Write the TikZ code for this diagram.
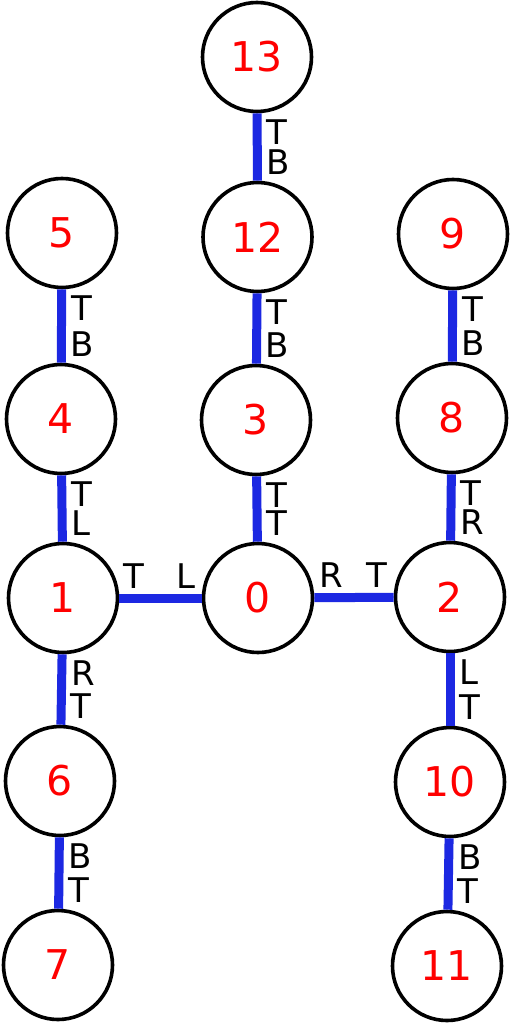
\documentclass[tikz,border=0pt]{standalone}
\usepackage{fontspec}
\setmainfont{DejaVu Sans}
\usepackage{tikz}
\usetikzlibrary{positioning}
\definecolor{linkblue}{RGB}{28,40,226}
\tikzstyle{vertex} = [circle, draw=black, line width=3.6pt, minimum size=109pt, inner sep=0pt, text=red, font=\fontsize{41}{48}\selectfont]
\tikzstyle{link} = [draw=linkblue, line width=9pt]
\tikzstyle{lab} = [inner sep=0.5pt, text=black, font=\fontsize{34}{40}\selectfont]
\newcommand{\Side}[1]{\textrm{#1}}

\begin{document}
\begin{tikzpicture}[x=1pt, y=-1pt]
	\useasboundingbox (0,0) rectangle (511,1024);
	% middle column
	\node[vertex] (n13) at (257,57) {13};
	\node[vertex] (n12) at (257.5,237) {12};
	\node[vertex] (n3) at (256,420) {3};
	\node[vertex] (n0) at (258,598) {0};
	% left column
	\node[vertex] (n5) at (62,233) {5};
	\node[vertex] (n4) at (61,419) {4};
	\node[vertex] (n1) at (63,598) {1};
	\node[vertex] (n6) at (60,781) {6};
	\node[vertex] (n7) at (58,965) {7};
	% right column
	\node[vertex] (n9) at (453,234) {9};
	\node[vertex] (n8) at (452,418) {8};
	\node[vertex] (n2) at (450,597) {2};
	\node[vertex] (n10) at (450,782) {10};
	\node[vertex] (n11) at (447,966) {11};
	% vertical links
	\foreach \a/\b/\s/\e in {13/12/T/B, 12/3/T/B, 3/0/T/T, 5/4/T/B, 4/1/T/L, 1/6/R/T, 6/7/B/T, 9/8/T/B, 8/2/T/R, 2/10/L/T, 10/11/B/T}
		\draw[link] (n\a) -- (n\b)
			node[lab, pos=0, anchor=north west, xshift=4.5pt, yshift=-1.5pt] {\Side{\s}}
			node[lab, pos=1, anchor=south west, xshift=4.5pt, yshift=1pt] {\Side{\e}};
	% horizontal links
	\draw[link] (n1) -- (n0)
		node[lab, pos=0, anchor=south west, xshift=-1pt, yshift=5pt] {\Side{T}}
		node[lab, pos=1, anchor=south east, xshift=-1pt, yshift=5pt] {\Side{L}};
	\draw[link] (n0) -- (n2)
		node[lab, pos=0, anchor=south west, xshift=0pt, yshift=5pt] {\Side{R}}
		node[lab, pos=1, anchor=south east, xshift=-1pt, yshift=5pt] {\Side{T}};
\end{tikzpicture}
\end{document}
